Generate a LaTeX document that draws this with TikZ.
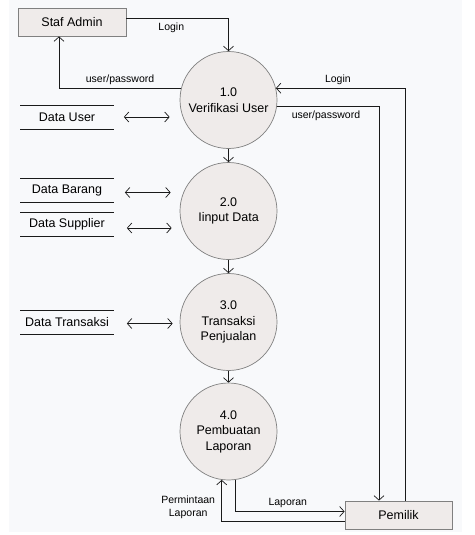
\documentclass[tikz,border=0pt]{standalone}
\usepackage{fontspec}
\setmainfont{Liberation Sans}
\usepackage{xcolor}
\usetikzlibrary{arrows.meta,positioning,calc}

\definecolor{bubble}{HTML}{EFEBEA}
\definecolor{edgegray}{HTML}{808080}
\definecolor{paper}{HTML}{F8F9FB}
\definecolor{ink}{HTML}{1A1A1A}

\tikzset{
  proc/.style={circle, draw=edgegray, fill=bubble, minimum size=97pt, inner sep=0pt,
    align=center, font=\fontsize{12.5}{15.5}\selectfont},
  entity/.style={rectangle, draw=edgegray, thick, fill=bubble, inner sep=0pt,
    font=\fontsize{12.5}{15}\selectfont},
  store/.style={minimum width=93pt, minimum height=23.5pt, inner sep=0pt,
    font=\fontsize{12.5}{15}\selectfont},
  flow/.style={font=\fontsize{10.5}{13}\selectfont, align=center},
}

\begin{document}
\begin{tikzpicture}[x=1pt, y=-1pt, line width=0.7pt, draw=ink,
  >={Straight Barb[length=4.5pt,width=10pt]}]

% ---------------- 1. CANVAS ----------------
\useasboundingbox (0,0) rectangle (474,535);
\fill[paper] (9,0) rectangle (462,532);

% ---------------- 2. EXTERNAL ENTITIES ----------------
\node[entity, minimum width=108pt, minimum height=28pt] (admin) at (72,22) {Staf Admin};
\node[entity, minimum width=107pt, minimum height=28pt] (pemilik) at (398.5,515) {Pemilik};

% ---------------- 3. PROCESSES ----------------
\node[proc] (p1) at (228.5,100) {1.0\\Verifikasi User};
\node[proc] (p2) at (228.5,211) {2.0\\Iinput Data};
\node[proc] (p3) at (228.5,322) {3.0\\Transaksi\\Penjualan};
\node[proc] (p4) at (228.5,431.5) {4.0\\Pembuatan\\Laporan};

% ---------------- 4. DATA STORES ----------------
\node[store] (du) at (67,117) {Data User};
\node[store] (db) at (67,190.5) {Data Barang};
\node[store] (ds) at (67,224) {Data Supplier};
\node[store] (dt) at (67,322.5) {Data Transaksi};

\foreach \s in {du,db,ds,dt} {
  \draw (\s.north west) -- (\s.north east);
  \draw (\s.south west) -- (\s.south east);
}

% store <-> process
\draw[<->, shorten <=10pt, shorten >=10pt] (du.east) -- (du.east -| p1.west);
\draw[<->, shorten <=11pt, shorten >=9pt] ([yshift=-2pt]db.east) -- ([yshift=-2pt]db.east -| p2.west);
\draw[<->, shorten <=13pt, shorten >=8pt] ([yshift=-4pt]ds.east) -- ([yshift=-4pt]ds.east -| p2.west);
\draw[<->, shorten <=13pt, shorten >=7pt] ([yshift=-1pt]dt.east) -- ([yshift=-1pt]dt.east -| p3.west);

% ---------------- 5. PROCESS CHAIN ----------------
\draw[->] (p1) -- (p2);
\draw[->] (p2) -- (p3);
\draw[->] (p3) -- (p4);

% ---------------- 6. LOGIN FLOWS ----------------
\draw[->] ([yshift=4pt]admin.east) -| (p1.north)
  node[flow, below, pos=0.22, yshift=-1pt] {Login};
\draw[->] (p1.166) -| ([xshift=-13pt]admin.south)
  node[flow, above, pos=0.25] {user/password};

\draw[->] ([xshift=6.5pt]pemilik.north) |- (p1.14)
  node[flow, above, pos=0.76] {Login};
\draw[->] (p1.-7) -| ([xshift=-19.5pt]pemilik.north)
  node[flow, below, pos=0.24, yshift=-1pt] {user/password};

% ---------------- 7. REPORT FLOWS ----------------
\draw[->] (p4.-82) |- ([yshift=3.5pt]pemilik.west)
  node[flow, above, pos=0.74] {Laporan};
\draw[->] ([yshift=-6.5pt]pemilik.west) -| (p4.-98)
  node[flow, left, pos=0.67, xshift=-3pt] {Permintaan\\Laporan};

\end{tikzpicture}
\end{document}
